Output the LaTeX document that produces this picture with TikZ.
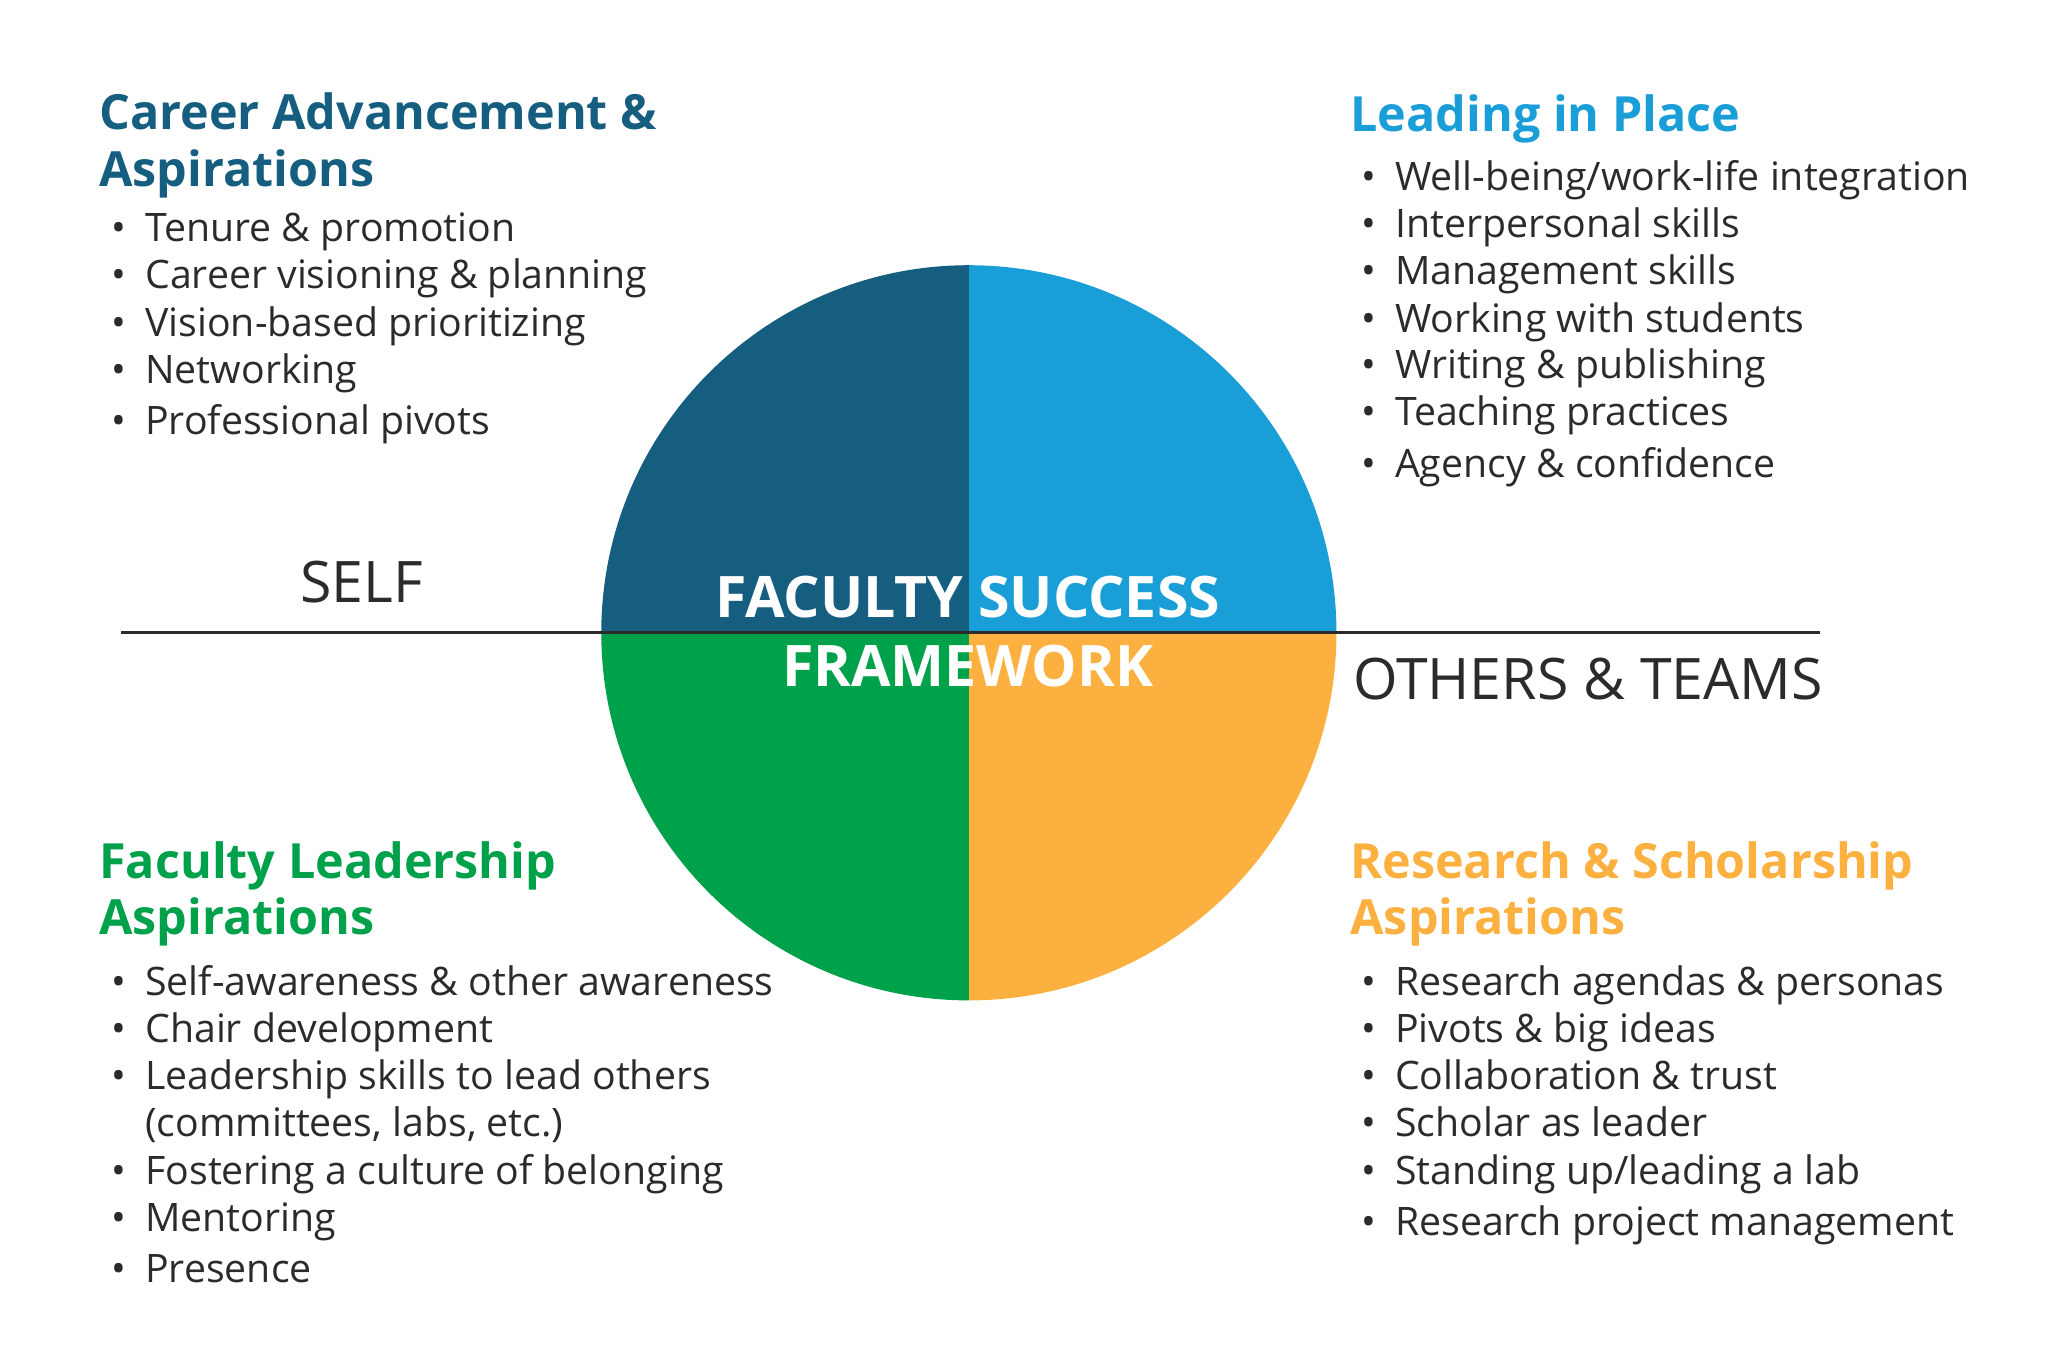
\documentclass[tikz,border=0pt]{standalone}
\usepackage{fontspec}
\setmainfont{Open Sans}
\definecolor{darkblue}{HTML}{165E80}
\definecolor{lightblue}{HTML}{1A9ED8}
\definecolor{leafgreen}{HTML}{00A14B}
\definecolor{amber}{HTML}{FBB040}
\definecolor{bodytext}{HTML}{2B2B2B}
\tikzset{
  heading/.style={anchor=base west, inner sep=0pt, font=\fontsize{10.5}{12}\selectfont\bfseries},
  entry/.style={anchor=base west, inner sep=0pt, text=bodytext, font=\fontsize{8.5}{10}\selectfont},
  side/.style={anchor=base west, inner sep=0pt, text=bodytext, font=\fontsize{12.4}{14}\selectfont},
  core/.style={anchor=base, inner sep=0pt, text=white, font=\fontsize{12.4}{14}\selectfont\bfseries}
}
\newcommand{\bulletat}[3]{%
  \node[entry] at (#1,#2) {\textbullet};
  \node[entry] at (#1+26,#2) {#3};}
\begin{document}
\begin{tikzpicture}[x=0.01cm,y=-0.01cm]
    \useasboundingbox (0,0) rectangle (1560,1038);

    % quadrants
    \begin{scope}
      \clip (738,482) circle[radius=280];
      \fill[darkblue] (450,190) rectangle (738,482);
      \fill[lightblue] (738,190) rectangle (1030,482);
      \fill[leafgreen] (450,482) rectangle (738,775);
      \fill[amber] (738,482) rectangle (1030,775);
    \end{scope}

    \coordinate (axisL) at (92,482);
    \coordinate (axisR) at (1386,482);
    \draw[line width=0.6pt, bodytext] (axisL) -- (axisR);

    \node[core] (core1) at (737,470) {FACULTY SUCCESS};
    \node[core] (core2) at (737,523) {FRAMEWORK};
    \node[side] (self) at (228,459) {SELF};
    \node[side] (others) at (1030,533) {OTHERS \& TEAMS};

    % career
    \node[heading, text=darkblue] (career1) at (75,99) {Career Advancement \&};
    \node[heading, text=darkblue] (career2) at (75,142) {Aspirations};
    \foreach \y/\t in {184/Tenure \& promotion, 220/Career visioning \& planning,
        256/Vision-based prioritizing, 292/Networking, 331/Professional pivots}
        {\bulletat{84}{\y}{\t}}

    % leading
    \node[heading, text=lightblue] (leading) at (1028,100) {Leading in Place};
    \foreach \y/\t in {145/{Well-being/work-life integration}, 181/Interpersonal skills,
        217/Management skills, 253/Working with students, 288/Writing \& publishing,
        324/Teaching practices, 364/Agency \& confidence}
        {\bulletat{1036}{\y}{\t}}

    % faculty leadership
    \node[heading, text=leafgreen] (lead1) at (75,669) {Faculty Leadership};
    \node[heading, text=leafgreen] (lead2) at (75,712) {Aspirations};
    \foreach \y/\t in {758/Self-awareness \& other awareness, 794/Chair development,
        830/Leadership skills to lead others, 902/Fostering a culture of belonging,
        938/Mentoring, 977/Presence}
        {\bulletat{84}{\y}{\t}}
    \node[entry] (lead3) at (110,866) {(committees, labs, etc.)};

    % research
    \node[heading, text=amber] (research1) at (1028,669) {Research \& Scholarship};
    \node[heading, text=amber] (research2) at (1028,712) {Aspirations};
    \foreach \y/\t in {758/Research agendas \& personas, 794/Pivots \& big ideas,
        830/Collaboration \& trust, 866/Scholar as leader, 902/{Standing up/leading a lab},
        941/Research project management}
        {\bulletat{1036}{\y}{\t}}
\end{tikzpicture}
\end{document}
